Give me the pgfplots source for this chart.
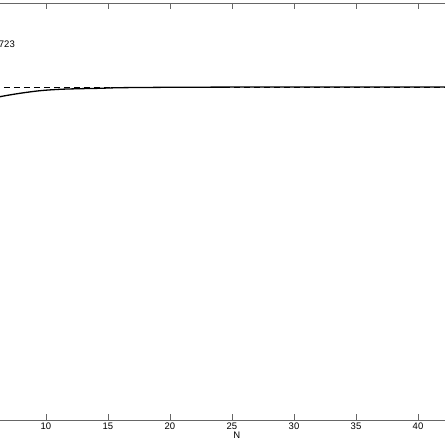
\documentclass[border=0pt]{standalone}
\usepackage{fontspec}
\setmainfont{Liberation Sans}
\usepackage{pgfplots}
\pgfplotsset{compat=1.18}
\begin{document}
\begin{tikzpicture}[x=1pt,y=1pt]
\begin{axis}[
    at={(-16pt,24pt)}, anchor=south west,
    scale only axis,
    width=496pt, height=417pt,
    xmin=5, xmax=45,
    ymin=0, ymax=417,
    xtick={10,15,...,40},
    extra x ticks={5,45},
    extra x tick labels={},
    ytick=\empty,
    tick align=inside,
    major tick length=6pt,
    axis line style={gray!80!black, line width=0.6pt},
    every tick/.style={gray!80!black, line width=0.6pt},
    tick label style={font=\fontsize{9.5}{11}\selectfont},
    xticklabel style={anchor=north, inner sep=0pt, yshift=-3pt},
    /pgf/number format/assume math mode=true,
    xlabel={N},
    xlabel style={font=\fontsize{9.5}{11}\selectfont, at={(rel axis cs:0.5,0)},
      anchor=center, yshift=-15pt, xshift=4.7pt},
    clip=true
  ]
  \addplot[black, line width=0.8pt, dash pattern=on 6pt off 4pt] coordinates {
      (5,333) (45,333)
    };
  \addplot[black, line width=1.3pt, smooth] coordinates {
      (5.5,320.5) (6.29,323.3) (7.9,326.7) (9.52,329.3) (11.13,330.7)
      (12.74,331.3) (14.35,331.7) (15.97,332.3) (20,332.7) (25,332.9)
      (30,333) (35,333) (45,333)
    };
  \node[anchor=east, inner sep=0pt, font=\fontsize{9.5}{11}\selectfont] at (axis cs:7.5,376) {0.5723};
\end{axis}
\pgfresetboundingbox
\useasboundingbox (0,0) rectangle (444pt,444pt);
\end{tikzpicture}
\end{document}
